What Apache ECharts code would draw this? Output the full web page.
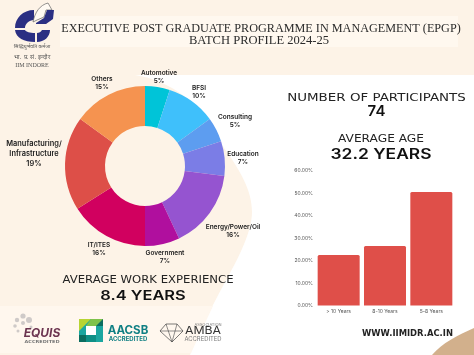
<!DOCTYPE html>
<html><head><meta charset="utf-8">
<style>html,body{margin:0;padding:0;background:#fff}#c{width:474px;height:355px}</style>
<script src="https://cdn.jsdelivr.net/npm/echarts@6/dist/echarts.min.js"></script>
</head><body><div id="c"></div>
<script>
const sectorNames = ['Automotive','BFSI','Consulting','Education','Energy/Power/Oil','Government','IT/ITES','Manufacturing/\nInfrastructure','Others'];
const sectorValues = [5,10,5,7,16,7,16,19,15];
const sectorColors = ['#00c4d8','#3fc0fb','#5d9df0','#7b7de6','#9554d0','#b00f9e','#d1005f','#dd4f48','#f59350'];
const expCategories = ['> 10 Years','8-10 Years','5-8 Years'];
const expValues = [22.5,26.5,50.5];
const labelSpots = [[159,76.7],[199,91.7],[235,120.7],[243,157.7],[233,230.7],[165,256.7],[99,249.3],[34,154],[102,83.3]];
const FONT = 'Inter, "Open Sans", sans-serif';
const WIDE = '"DejaVu Sans", sans-serif';
const SERIF = '"Liberation Serif", serif';

const chart = echarts.init(document.getElementById('c'), null, {renderer:'canvas'});
function t(x,y,text,size,color,weight,family,sx,extra){
  return {type:'text',x,y,scaleX:sx||1,silent:true,style:Object.assign({text,fontSize:size,fill:color,fontWeight:weight||'normal',fontFamily:family||WIDE,align:'center',verticalAlign:'middle'},extra||{})};
}
let pathId=0;
function p(d,style,z){
  const name='svgp'+(pathId++);
  echarts.graphic.registerShape(name,echarts.graphic.extendPath(d,{}));
  return {type:name,silent:true,z:z||0,style};
}
function dot(cx,cy,r){return {type:'circle',silent:true,shape:{cx,cy,r},style:{fill:'#cfcac8'}};}
function rc(x,y,w,h,fill,z){return {type:'rect',silent:true,z:z||0,shape:{x,y,width:w,height:h},style:{fill}};}
chart.setOption({
  backgroundColor:'#ffffff',
  animation:false,
  graphic:{elements:[
    p('M0 0H474V75H135C170 80 205 105 222 145C240 170 252 190 252 212C252 230 240 255 230 273C215 300 200 330 190 355H0Z',{fill:'#fdf3e7'},-10),
    rc(60,16,398,31,'#fff8ef',-9),
    p('M0 306H213L191 353H0Z',{fill:'#fff7ee'},-9),
    p('M432 355C442 343 458 335 474 328V355Z',{fill:'#d2b08c'},-9),
    t(261,29,'EXECUTIVE POST GRADUATE PROGRAMME IN MANAGEMENT (EPGP)',12.2,'#2b2b2b','normal',SERIF),
    t(259,40.7,'BATCH PROFILE 2024-25',12.2,'#2b2b2b','normal',SERIF,1.03),
    p('M15 28C15 18 23 10 34 10V20C29 20 25 24 25 28Z',{fill:'#2b2f83'}),
    p('M15 30H25C26 32 30 33 35 33V42C24 42 16 38 15 30Z',{fill:'#2b2f83'}),
    p('M50 30H42C41 32 39 33 37 33V42C44 42 50 37 50 30Z',{fill:'#2b2f83'}),
    p('M33 22C35 12 40 5 48 3L52 10L46 10L44 17L37 20Z',{fill:'#fffaf3',stroke:'#666',lineWidth:0.7}),
    p('M36 23L44 18L47 10L54 10L53 19L46 24H36Z',{fill:'#2b2f83'}),
    t(32,47,'सिद्धियुर्भवति कर्मजा',5,'#555','normal','"Noto Sans"'),
    t(32,57,'भा. प्र. सं. इन्दौर',6,'#555'),
    t(32,65,'IIM INDORE',6,'#555','normal',SERIF),
    t(376.5,98,'NUMBER OF PARTICIPANTS',11,'#222','normal',WIDE,1.22),
    t(376.5,111.7,'74',15,'#111',600,FONT),
    t(381,139,'AVERAGE AGE',10.5,'#222','normal',WIDE,1.16),
    t(381,155,'32.2 YEARS',14.5,'#111',600,FONT,1.2),
    t(148,280,'AVERAGE WORK EXPERIENCE',10.5,'#222','normal',WIDE,1.11),
    t(143,296,'8.4 YEARS',13.7,'#111',600,FONT,1.2),
    t(407.5,334,'WWW.IIMIDR.AC.IN',8,'#222','bold',WIDE,1.05),
    dot(23,316,2.6),dot(17,320,2.2),dot(29,320,3),dot(15,326,1.8),dot(23,323,2),dot(18,331,1.5),dot(31,327,1.5),
    t(42,333,'EQUIS',12,'#6d3550','bold',FONT,1,{fontStyle:'italic'}),
    t(42,342,'ACCREDITED',4.2,'#777','bold',WIDE,1.18),
    rc(79,319,24,23,'#1ba6a0'),
    p('M79 319H91L79 331Z',{fill:'#b7d433'}),
    rc(86,326,10,9,'#ffffff'),
    rc(96,319,7,7,'#0b6d60'),
    rc(79,335,7,7,'#0b6d60'),
    rc(86,335,10,7,'#0e8f86'),
    p('M86 326H96L103 319H91Z',{fill:'#7fc24a'}),
    t(128,331,'AACSB',11.5,'#0f7f83','bold',FONT),
    t(128,339,'ACCREDITED',6,'#0f7f83','bold',FONT),
    {type:'polygon',silent:true,shape:{points:[[160,331],[166,324],[177,324],[183,331],[172,342]]},style:{fill:'none',stroke:'#444',lineWidth:0.7}},
    {type:'polyline',silent:true,shape:{points:[[160,331],[183,331]]},style:{stroke:'#444',lineWidth:0.6,fill:'none'}},
    {type:'polyline',silent:true,shape:{points:[[166,324],[172,342],[177,324]]},style:{stroke:'#444',lineWidth:0.6,fill:'none'}},
    t(203,331,'AMBA',11,'#333','normal',FONT,1.12),
    t(203,339,'ACCREDITED',5.6,'#777','normal',FONT,1.05),
    t(208,325,'ASSOCIATION',4,'#777','normal',FONT)
  ]},
  grid:{left:315.5,top:170.5,width:139,height:135,containLabel:false},
  xAxis:{type:'category',data:expCategories,axisLine:{show:false},axisTick:{show:false},
    axisLabel:{fontSize:5,color:'#555',margin:3,fontFamily:FONT}},
  yAxis:{type:'value',min:0,max:60,interval:10,splitLine:{show:false},axisLine:{show:false},axisTick:{show:false},
    axisLabel:{fontSize:5,color:'#555',margin:2.5,fontFamily:FONT,formatter:v=>v.toFixed(2)+'%'}},
  series:[
    {type:'bar',data:expValues,barWidth:42,itemStyle:{color:'#df4f49',borderRadius:[1.5,1.5,0,0]}},
    {type:'pie',center:[145,166],radius:[40,80],startAngle:90,clockwise:true,
      data:sectorNames.map((name,i)=>({name,value:sectorValues[i],itemStyle:{color:sectorColors[i]},
        label:i===7?{fontSize:7.4,lineHeight:10.2,overflow:'none',width:80}:undefined})),
      label:{show:true,position:'outside',formatter:'{b}\n{c}%',fontSize:6.5,lineHeight:8,fontWeight:600,color:'#222',fontFamily:FONT,overflow:'none'},
      labelLine:{show:false},emphasis:{disabled:true},
      labelLayout:params=>({x:labelSpots[params.dataIndex][0],y:labelSpots[params.dataIndex][1],align:'center',verticalAlign:'middle',hideOverlap:false})}
  ]
});
</script></body></html>
